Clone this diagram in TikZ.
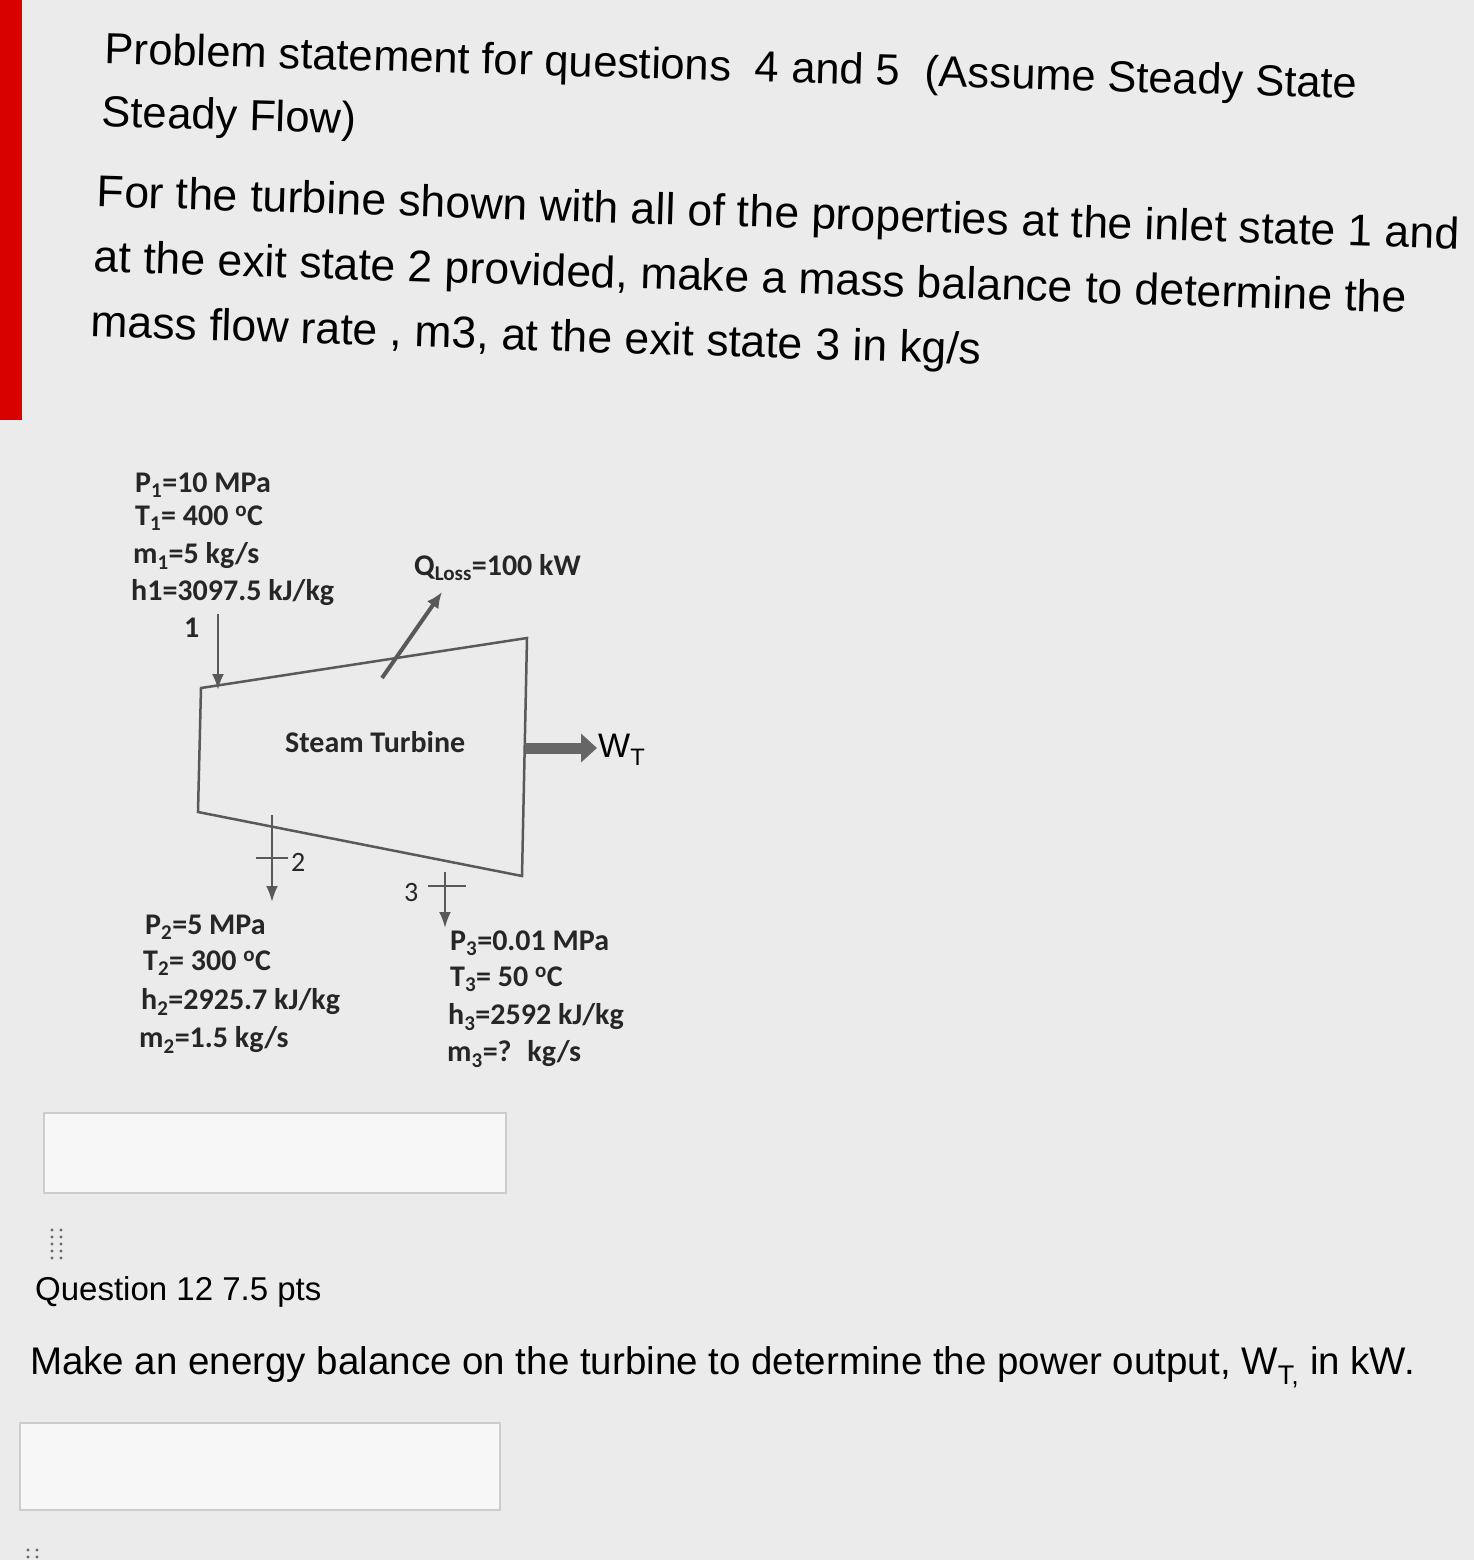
\documentclass[tikz,border=0pt]{standalone}
\usepackage{fontspec}
\usetikzlibrary{arrows.meta}
\setmainfont{Liberation Sans}
\newfontfamily\calfont{Carlito}
\begin{document}
\begin{tikzpicture}[x=1pt,y=-1pt,
  big/.style={anchor=west,font=\fontsize{43.5}{46}\selectfont,inner sep=0},
  lab/.style={anchor=west,font=\calfont\bfseries\fontsize{30}{32}\selectfont,inner sep=0,text=black!85},
  ln/.style={draw=black!65,line width=2.5pt},
  arr/.style={ln,-{Latex[length=16pt,width=12pt]}},
  ansbox/.style={draw=black!20,fill=black!3,line width=1.5pt}]
\fill[black!8] (0,0) rectangle (1474,1560);
\useasboundingbox (0,0) rectangle (1474,1560);
\fill[red!85!black] (0,0) rectangle (22,420);
\node[big,rotate=-1.6] (h1) at (105,52) {Problem statement for questions \ 4 and 5 \ (Assume Steady State};
\node[big,rotate=-1.6] (h2) at (102,115) {Steady Flow)};
\node[big,font=\fontsize{44.5}{46}\selectfont,rotate=-1.8] (p1) at (97,195) {For the turbine shown with all of the properties at the inlet state 1 and};
\node[big,font=\fontsize{44.5}{46}\selectfont,rotate=-1.8] (p2) at (94,260) {at the exit state 2 provided, make a mass balance to determine the};
\node[big,font=\fontsize{44.5}{46}\selectfont,rotate=-1.8] (p3) at (91,325) {mass flow rate , m3, at the exit state 3 in kg/s};
% inlet labels
\node[lab] (a1) at (135,485) {P\textsubscript{1}=10 MPa};
\node[lab] (a2) at (135,518) {T\textsubscript{1}= 400 \textsuperscript{o}C};
\node[lab] (a3) at (133,556) {m\textsubscript{1}=5 kg/s};
\node[lab] (a4) at (131,593) {h1=3097.5 kJ/kg};
\node[lab] (n1) at (184,628) {1};
% turbine
\coordinate (tl) at (201,688); \coordinate (bl) at (198,812);
\coordinate (br) at (522,876); \coordinate (tr) at (527,638);
\draw[ln] (tl) -- (tr) -- (br) -- (bl) -- cycle;
\node[lab] (st) at (285,742) {Steam Turbine};
\coordinate (i1) at (218,614);
\draw[arr] (i1) -- (218,690);
\coordinate (q0) at (382,678); \coordinate (q1) at (442,592);
\draw[ln,line width=4pt,-{Latex[length=16pt,width=14pt]}] (q0) -- (q1);
\node[lab] (ql) at (414,568) {Q\textsubscript{Loss}=100 kW};
\coordinate (w0) at (525,748); \coordinate (w1) at (597,748);
\draw[draw=black!60,line width=11pt,-{Triangle[length=16pt,width=28pt]}] (w0) -- (w1);
\node[anchor=west,font=\fontsize{34}{36}\selectfont,inner sep=0] (wt) at (598,750) {W\textsubscript{T}};
% exit 2
\coordinate (e2) at (272,815);
\draw[arr] (e2) -- (272,902);
\draw[ln] (256,858) -- (288,858);
\node[lab,font=\calfont\fontsize{28}{30}\selectfont] (n2) at (291,862) {2};
% exit 3
\coordinate (e3) at (445,872);
\draw[arr] (e3) -- (445,928);
\draw[ln] (428,886) -- (466,886);
\node[lab,font=\calfont\fontsize{28}{30}\selectfont] (n3) at (404,892) {3};
\node[lab] (b1) at (145,927) {P\textsubscript{2}=5 MPa};
\node[lab] (b2) at (143,963) {T\textsubscript{2}= 300 \textsuperscript{o}C};
\node[lab] (b3) at (141,1002) {h\textsubscript{2}=2925.7 kJ/kg};
\node[lab] (b4) at (139,1040) {m\textsubscript{2}=1.5 kg/s};
\node[lab] (c1) at (450,943) {P\textsubscript{3}=0.01 MPa};
\node[lab] (c2) at (450,979) {T\textsubscript{3}= 50 \textsuperscript{o}C};
\node[lab] (c3) at (448,1017) {h\textsubscript{3}=2592 kJ/kg};
\node[lab] (c4) at (447,1054) {m\textsubscript{3}=? \ kg/s};
% answer areas
\draw[ansbox] (44,1113) rectangle (506,1193);
\foreach \i in {0,...,4}{\fill[black!60] (52,1230+\i*7) circle (1.6pt); \fill[black!60] (61,1230+\i*7) circle (1.6pt);}
\node[anchor=west,font=\fontsize{33}{36}\selectfont,inner sep=0] (q12) at (35,1292) {Question 12 7.5 pts};
\node[anchor=west,font=\fontsize{38.5}{42}\selectfont,inner sep=0] (mk) at (30,1367) {Make an energy balance on the turbine to determine the power output, W\textsubscript{T,} in kW.};
\draw[ansbox] (20,1423) rectangle (500,1510);
\foreach \i in {0,1}{\fill[black!60] (28,1550+\i*7) circle (1.6pt); \fill[black!60] (37,1550+\i*7) circle (1.6pt);}
\end{tikzpicture}
\end{document}
